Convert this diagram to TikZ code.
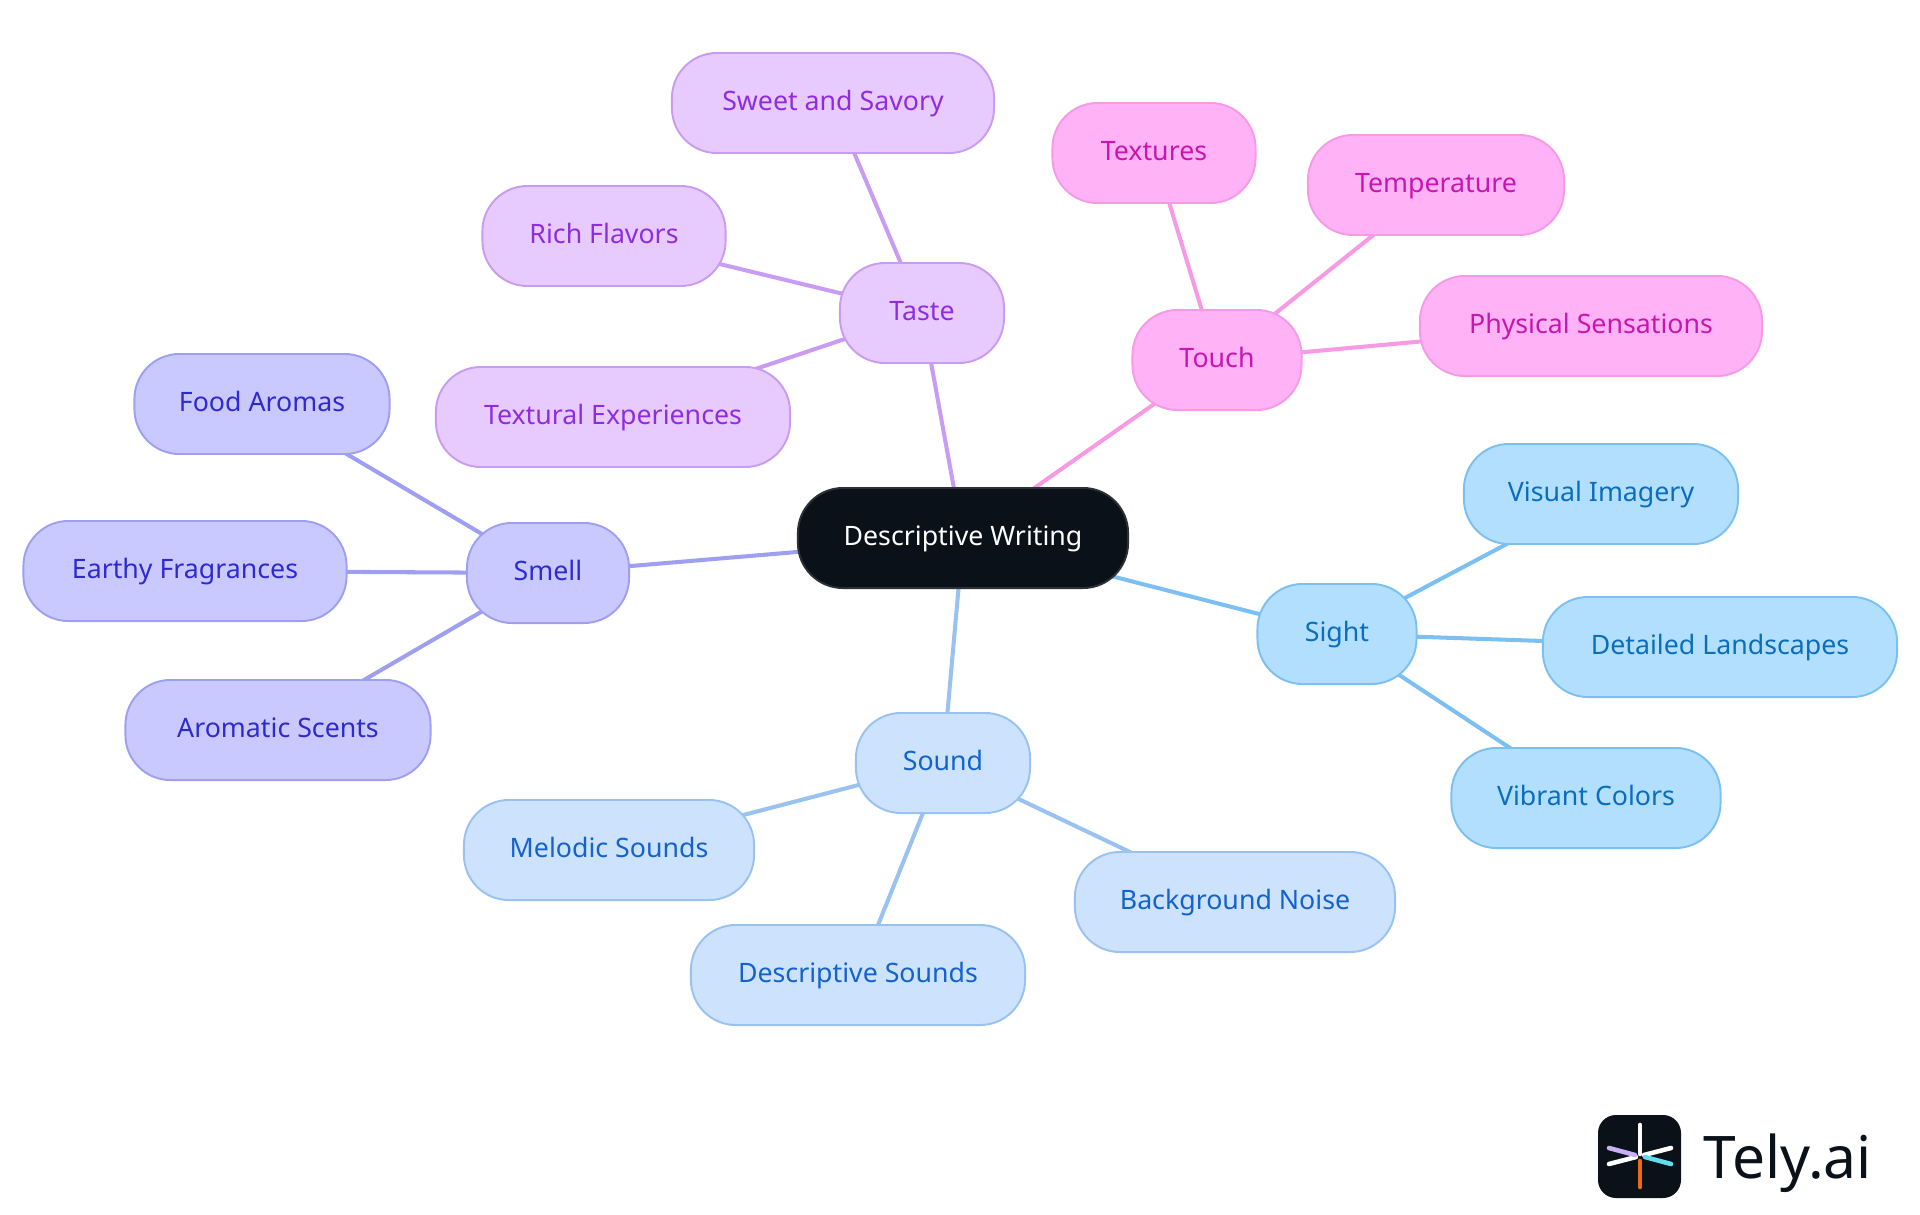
\documentclass[tikz,border=0pt]{standalone}
\usepackage{fontspec}
\setmainfont{Noto Sans}
\usepackage{xcolor}
\usetikzlibrary{backgrounds}
\definecolor{rootfill}{HTML}{0B1119}
\definecolor{rootline}{HTML}{2C3138}
\definecolor{tastefill}{HTML}{E8CBFE}
\definecolor{tasteline}{HTML}{C89CF2}
\definecolor{tastetext}{HTML}{8F2CE0}
\definecolor{touchfill}{HTML}{FFB3F6}
\definecolor{touchline}{HTML}{F79AE6}
\definecolor{touchtext}{HTML}{C616AE}
\definecolor{sightfill}{HTML}{B3DFFF}
\definecolor{sightline}{HTML}{7CC0F2}
\definecolor{sighttext}{HTML}{0A6EBD}
\definecolor{soundfill}{HTML}{CCE2FD}
\definecolor{soundline}{HTML}{99C2F0}
\definecolor{soundtext}{HTML}{1462CC}
\definecolor{smellfill}{HTML}{C9C9FF}
\definecolor{smellline}{HTML}{9F9FF2}
\definecolor{smelltext}{HTML}{2E2ACF}
\definecolor{logoviolet}{HTML}{C9B0F5}
\definecolor{logocyan}{HTML}{62DDEE}
\definecolor{logoorange}{HTML}{F26A10}

\begin{document}
\begin{tikzpicture}[
  x=0.01cm, y=-0.01cm,
  font=\fontsize{7.6}{10}\selectfont,
  box/.style={draw, align=center, rounded corners=0.45cm, line width=0.55pt, minimum height=1.0cm, text height=0.24cm, text depth=0.09cm},
  rootbox/.style={box, fill=rootfill, draw=rootline, text=white},
  tastebox/.style={box, fill=tastefill, draw=tasteline, text=tastetext},
  touchbox/.style={box, fill=touchfill, draw=touchline, text=touchtext},
  sightbox/.style={box, fill=sightfill, draw=sightline, text=sighttext},
  soundbox/.style={box, fill=soundfill, draw=soundline, text=soundtext},
  smellbox/.style={box, fill=smellfill, draw=smellline, text=smelltext},
  link/.style={line width=1.15pt},
  spoke/.style={line width=1.3pt, line cap=round},
]
  \useasboundingbox (0,0) rectangle (1920,1215);

  \node[rootbox, minimum width=3.3cm] (root) at (963,538) {Descriptive Writing};

  \node[tastebox, minimum width=1.64cm] (taste) at (922,313) {Taste};
  \node[tastebox, minimum width=3.22cm] (sweet) at (833,103) {Sweet and Savory};
  \node[tastebox, minimum width=2.43cm] (rich) at (604,236) {Rich Flavors};
  \node[tastebox, minimum width=3.54cm] (textural) at (613,417) {Textural Experiences};

  \node[touchbox, minimum width=1.69cm] (touch) at (1217,360) {Touch};
  \node[touchbox, minimum width=2.03cm] (textures) at (1154,153) {Textures};
  \node[touchbox, minimum width=2.56cm] (temperature) at (1436,185) {Temperature};
  \node[touchbox, minimum width=3.42cm] (physical) at (1591,326) {Physical Sensations};

  \node[sightbox, minimum width=1.59cm] (sight) at (1337,634) {Sight};
  \node[sightbox, minimum width=2.74cm] (visual) at (1601,494) {Visual Imagery};
  \node[sightbox, minimum width=3.54cm] (detailed) at (1720,647) {Detailed Landscapes};
  \node[sightbox, minimum width=2.69cm] (vibrant) at (1586,798) {Vibrant Colors};

  \node[soundbox, minimum width=1.74cm] (sound) at (943,763) {Sound};
  \node[soundbox, minimum width=2.90cm] (melodic) at (609,850) {Melodic Sounds};
  \node[soundbox, minimum width=3.34cm] (dsounds) at (858,975) {Descriptive Sounds};
  \node[soundbox, minimum width=3.20cm] (noise) at (1235,902) {Background Noise};

  \node[smellbox, minimum width=1.62cm] (smell) at (548,573) {Smell};
  \node[smellbox, minimum width=2.55cm] (food) at (262,404) {Food Aromas};
  \node[smellbox, minimum width=3.23cm] (earthy) at (185,571) {Earthy Fragrances};
  \node[smellbox, minimum width=3.05cm] (aromatic) at (278,730) {Aromatic Scents};

  \begin{scope}[on background layer]
    \draw[link, tasteline] (taste.center) -- (root.center);
    \draw[link, tasteline] (sweet.center) -- (taste.center);
    \draw[link, tasteline] (rich.center) -- (taste.center);
    \draw[link, tasteline] (textural.center) -- (taste.center);
    \draw[link, touchline] (touch.center) -- (root.center);
    \draw[link, touchline] (textures.center) -- (touch.center);
    \draw[link, touchline] (temperature.center) -- (touch.center);
    \draw[link, touchline] (physical.center) -- (touch.center);
    \draw[link, sightline] (sight.center) -- (root.center);
    \draw[link, sightline] (visual.center) -- (sight.center);
    \draw[link, sightline] (detailed.center) -- (sight.center);
    \draw[link, sightline] (vibrant.center) -- (sight.center);
    \draw[link, soundline] (sound.center) -- (root.center);
    \draw[link, soundline] (melodic.center) -- (sound.center);
    \draw[link, soundline] (dsounds.center) -- (sound.center);
    \draw[link, soundline] (noise.center) -- (sound.center);
    \draw[link, smellline] (smell.center) -- (root.center);
    \draw[link, smellline] (food.center) -- (smell.center);
    \draw[link, smellline] (earthy.center) -- (smell.center);
    \draw[link, smellline] (aromatic.center) -- (smell.center);
  \end{scope}

  % logo
  \fill[rootfill, rounded corners=0.18cm] (1598,1115) rectangle (1681,1198);
  \draw[spoke, white] (1640,1154) -- (1640,1125);
  \draw[spoke, white] (1644,1155) -- (1671,1148);
  \draw[spoke, white] (1636,1157) -- (1609,1164);
  \draw[spoke, logoorange] (1640,1161) -- (1640,1187);
  \draw[spoke, logocyan] (1645,1157) -- (1671,1164);
  \draw[spoke, logoviolet] (1635,1155) -- (1609,1148);
  \node[text=rootfill, anchor=base west, inner sep=0pt, font=\fontsize{16.7}{20}\selectfont] (brand) at (1703,1178) {Tely.ai};
\end{tikzpicture}
\end{document}
